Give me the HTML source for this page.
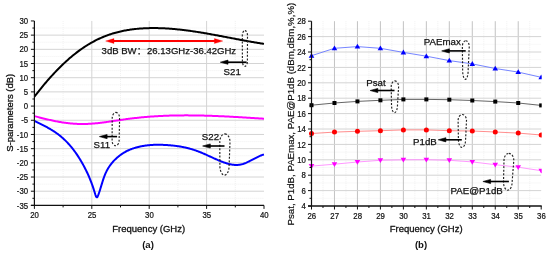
<!DOCTYPE html>
<html><head><meta charset="utf-8"><style>
html,body{margin:0;padding:0;background:#fff;width:550px;height:255px;overflow:hidden}
svg{display:block}
text{font-family:"Liberation Sans",Arial,sans-serif;fill:#111;stroke:#111;stroke-width:0.25px;stroke-linejoin:round}
.cj{font-family:"Noto Sans CJK SC",sans-serif}
.tl{font-size:7.8px;stroke-width:0.2px}
.an{font-size:9.7px}
.at{font-size:9.5px;stroke-width:0.3px}
.at2{font-size:9.7px;stroke-width:0.2px}
.pl{font-size:9.6px;font-weight:bold;stroke:none}
.gmin{stroke:#eeeeee;stroke-width:0.8;stroke-dasharray:1 1}
.gmaj{stroke:#d4d4d4;stroke-width:1}
.gmajv{stroke:#d4d4d4;stroke-width:1}
.rgv{stroke:#b4b4b4;stroke-width:0.8}
.ax{stroke:#111;stroke-width:1.2}
.axx{stroke:#111;stroke-width:1.3}
.tk{stroke:#111;stroke-width:1}
.c{fill:none;stroke-width:2;stroke-linejoin:round}
.el{fill:none;stroke:#222;stroke-width:1.15;stroke-dasharray:2 1.6}
</style></head><body>
<svg width="550" height="255" viewBox="0 0 550 255">
<defs><clipPath id="cl"><rect x="34.4" y="0" width="230.1" height="210"/></clipPath>
<clipPath id="cr"><rect x="305" y="0" width="236.7" height="210"/></clipPath></defs>
<g><line x1="63.1" y1="20.95" x2="63.1" y2="205.4" class="gmin"/>
<line x1="120.5" y1="20.95" x2="120.5" y2="205.4" class="gmin"/>
<line x1="177.9" y1="20.95" x2="177.9" y2="205.4" class="gmin"/>
<line x1="235.3" y1="20.95" x2="235.3" y2="205.4" class="gmin"/>
<line x1="34.4" y1="28.04" x2="264" y2="28.04" class="gmin"/>
<line x1="34.4" y1="42.23" x2="264" y2="42.23" class="gmin"/>
<line x1="34.4" y1="56.42" x2="264" y2="56.42" class="gmin"/>
<line x1="34.4" y1="70.61" x2="264" y2="70.61" class="gmin"/>
<line x1="34.4" y1="84.8" x2="264" y2="84.8" class="gmin"/>
<line x1="34.4" y1="98.99" x2="264" y2="98.99" class="gmin"/>
<line x1="34.4" y1="113.18" x2="264" y2="113.18" class="gmin"/>
<line x1="34.4" y1="127.36" x2="264" y2="127.36" class="gmin"/>
<line x1="34.4" y1="141.55" x2="264" y2="141.55" class="gmin"/>
<line x1="34.4" y1="155.74" x2="264" y2="155.74" class="gmin"/>
<line x1="34.4" y1="169.93" x2="264" y2="169.93" class="gmin"/>
<line x1="34.4" y1="184.12" x2="264" y2="184.12" class="gmin"/>
<line x1="34.4" y1="198.31" x2="264" y2="198.31" class="gmin"/>
<line x1="91.8" y1="20.95" x2="91.8" y2="205.4" class="gmajv"/>
<line x1="149.2" y1="20.95" x2="149.2" y2="205.4" class="gmajv"/>
<line x1="206.6" y1="20.95" x2="206.6" y2="205.4" class="gmajv"/>
<line x1="34.4" y1="35.14" x2="264" y2="35.14" class="gmaj"/>
<line x1="34.4" y1="49.33" x2="264" y2="49.33" class="gmaj"/>
<line x1="34.4" y1="63.52" x2="264" y2="63.52" class="gmaj"/>
<line x1="34.4" y1="77.7" x2="264" y2="77.7" class="gmaj"/>
<line x1="34.4" y1="91.89" x2="264" y2="91.89" class="gmaj"/>
<line x1="34.4" y1="106.08" x2="264" y2="106.08" class="gmaj"/>
<line x1="34.4" y1="120.27" x2="264" y2="120.27" class="gmaj"/>
<line x1="34.4" y1="134.46" x2="264" y2="134.46" class="gmaj"/>
<line x1="34.4" y1="148.65" x2="264" y2="148.65" class="gmaj"/>
<line x1="34.4" y1="162.83" x2="264" y2="162.83" class="gmaj"/>
<line x1="34.4" y1="177.02" x2="264" y2="177.02" class="gmaj"/>
<line x1="34.4" y1="191.21" x2="264" y2="191.21" class="gmaj"/>
<line x1="322.99" y1="21.2" x2="322.99" y2="206" class="gmin"/>
<line x1="345.95" y1="21.2" x2="345.95" y2="206" class="gmin"/>
<line x1="368.93" y1="21.2" x2="368.93" y2="206" class="gmin"/>
<line x1="391.89" y1="21.2" x2="391.89" y2="206" class="gmin"/>
<line x1="414.87" y1="21.2" x2="414.87" y2="206" class="gmin"/>
<line x1="437.84" y1="21.2" x2="437.84" y2="206" class="gmin"/>
<line x1="460.81" y1="21.2" x2="460.81" y2="206" class="gmin"/>
<line x1="483.78" y1="21.2" x2="483.78" y2="206" class="gmin"/>
<line x1="506.75" y1="21.2" x2="506.75" y2="206" class="gmin"/>
<line x1="529.72" y1="21.2" x2="529.72" y2="206" class="gmin"/>
<line x1="311.5" y1="28.9" x2="541.2" y2="28.9" class="gmin"/>
<line x1="311.5" y1="44.3" x2="541.2" y2="44.3" class="gmin"/>
<line x1="311.5" y1="59.7" x2="541.2" y2="59.7" class="gmin"/>
<line x1="311.5" y1="75.1" x2="541.2" y2="75.1" class="gmin"/>
<line x1="311.5" y1="90.5" x2="541.2" y2="90.5" class="gmin"/>
<line x1="311.5" y1="105.9" x2="541.2" y2="105.9" class="gmin"/>
<line x1="311.5" y1="121.3" x2="541.2" y2="121.3" class="gmin"/>
<line x1="311.5" y1="136.7" x2="541.2" y2="136.7" class="gmin"/>
<line x1="311.5" y1="152.1" x2="541.2" y2="152.1" class="gmin"/>
<line x1="311.5" y1="167.5" x2="541.2" y2="167.5" class="gmin"/>
<line x1="311.5" y1="182.9" x2="541.2" y2="182.9" class="gmin"/>
<line x1="311.5" y1="198.3" x2="541.2" y2="198.3" class="gmin"/>
<line x1="334.47" y1="21.2" x2="334.47" y2="206" class="rgv"/>
<line x1="357.44" y1="21.2" x2="357.44" y2="206" class="rgv"/>
<line x1="380.41" y1="21.2" x2="380.41" y2="206" class="rgv"/>
<line x1="403.38" y1="21.2" x2="403.38" y2="206" class="rgv"/>
<line x1="426.35" y1="21.2" x2="426.35" y2="206" class="rgv"/>
<line x1="449.32" y1="21.2" x2="449.32" y2="206" class="rgv"/>
<line x1="472.29" y1="21.2" x2="472.29" y2="206" class="rgv"/>
<line x1="495.26" y1="21.2" x2="495.26" y2="206" class="rgv"/>
<line x1="518.23" y1="21.2" x2="518.23" y2="206" class="rgv"/>
<line x1="311.5" y1="36.6" x2="541.2" y2="36.6" class="gmaj"/>
<line x1="311.5" y1="52" x2="541.2" y2="52" class="gmaj"/>
<line x1="311.5" y1="67.4" x2="541.2" y2="67.4" class="gmaj"/>
<line x1="311.5" y1="82.8" x2="541.2" y2="82.8" class="gmaj"/>
<line x1="311.5" y1="98.2" x2="541.2" y2="98.2" class="gmaj"/>
<line x1="311.5" y1="113.6" x2="541.2" y2="113.6" class="gmaj"/>
<line x1="311.5" y1="129" x2="541.2" y2="129" class="gmaj"/>
<line x1="311.5" y1="144.4" x2="541.2" y2="144.4" class="gmaj"/>
<line x1="311.5" y1="159.8" x2="541.2" y2="159.8" class="gmaj"/>
<line x1="311.5" y1="175.2" x2="541.2" y2="175.2" class="gmaj"/>
<line x1="311.5" y1="190.6" x2="541.2" y2="190.6" class="gmaj"/></g>
<g clip-path="url(#cl)"><path d="M34.4 96.7 L35.4 95.39 L36.41 94.1 L37.41 92.82 L38.41 91.56 L39.41 90.3 L40.42 89.05 L41.42 87.82 L42.42 86.6 L43.42 85.39 L44.43 84.19 L45.43 83.01 L46.43 81.84 L47.43 80.68 L48.44 79.53 L49.44 78.39 L50.44 77.27 L51.44 76.16 L52.45 75.06 L53.45 73.97 L54.45 72.9 L55.46 71.84 L56.46 70.79 L57.46 69.75 L58.46 68.73 L59.47 67.72 L60.47 66.73 L61.47 65.75 L62.47 64.78 L63.48 63.82 L64.48 62.88 L65.48 61.95 L66.48 61.04 L67.49 60.14 L68.49 59.25 L69.49 58.37 L70.49 57.51 L71.5 56.67 L72.5 55.83 L73.5 55.02 L74.5 54.21 L75.51 53.42 L76.51 52.64 L77.51 51.88 L78.52 51.13 L79.52 50.39 L80.52 49.67 L81.52 48.96 L82.53 48.26 L83.53 47.58 L84.53 46.91 L85.53 46.26 L86.54 45.62 L87.54 44.99 L88.54 44.38 L89.54 43.78 L90.55 43.19 L91.55 42.62 L92.55 42.06 L93.55 41.52 L94.56 40.99 L95.56 40.47 L96.56 39.96 L97.57 39.47 L98.57 38.99 L99.57 38.53 L100.57 38.08 L101.58 37.64 L102.58 37.21 L103.58 36.79 L104.58 36.39 L105.59 36 L106.59 35.62 L107.59 35.25 L108.59 34.89 L109.6 34.54 L110.6 34.21 L111.6 33.88 L112.6 33.57 L113.61 33.27 L114.61 32.98 L115.61 32.69 L116.61 32.42 L117.62 32.16 L118.62 31.91 L119.62 31.67 L120.63 31.43 L121.63 31.21 L122.63 31 L123.63 30.79 L124.64 30.59 L125.64 30.41 L126.64 30.23 L127.64 30.06 L128.65 29.89 L129.65 29.74 L130.65 29.59 L131.65 29.46 L132.66 29.32 L133.66 29.2 L134.66 29.08 L135.66 28.98 L136.67 28.87 L137.67 28.78 L138.67 28.69 L139.68 28.61 L140.68 28.53 L141.68 28.46 L142.68 28.4 L143.69 28.34 L144.69 28.29 L145.69 28.25 L146.69 28.2 L147.7 28.17 L148.7 28.14 L149.7 28.12 L150.7 28.1 L151.71 28.09 L152.71 28.08 L153.71 28.08 L154.71 28.08 L155.72 28.08 L156.72 28.1 L157.72 28.11 L158.72 28.14 L159.73 28.16 L160.73 28.19 L161.73 28.23 L162.74 28.27 L163.74 28.32 L164.74 28.37 L165.74 28.42 L166.75 28.48 L167.75 28.54 L168.75 28.61 L169.75 28.68 L170.76 28.75 L171.76 28.83 L172.76 28.91 L173.76 29 L174.77 29.09 L175.77 29.18 L176.77 29.28 L177.77 29.38 L178.78 29.48 L179.78 29.59 L180.78 29.7 L181.79 29.82 L182.79 29.94 L183.79 30.06 L184.79 30.18 L185.8 30.31 L186.8 30.44 L187.8 30.57 L188.8 30.7 L189.81 30.84 L190.81 30.98 L191.81 31.12 L192.81 31.27 L193.82 31.42 L194.82 31.57 L195.82 31.72 L196.82 31.88 L197.83 32.03 L198.83 32.19 L199.83 32.36 L200.83 32.52 L201.84 32.68 L202.84 32.85 L203.84 33.02 L204.85 33.19 L205.85 33.36 L206.85 33.54 L207.85 33.71 L208.86 33.89 L209.86 34.07 L210.86 34.25 L211.86 34.43 L212.87 34.61 L213.87 34.79 L214.87 34.98 L215.87 35.16 L216.88 35.35 L217.88 35.54 L218.88 35.72 L219.88 35.91 L220.89 36.1 L221.89 36.29 L222.89 36.48 L223.9 36.67 L224.9 36.86 L225.9 37.05 L226.9 37.25 L227.91 37.44 L228.91 37.63 L229.91 37.82 L230.91 38.01 L231.92 38.2 L232.92 38.39 L233.92 38.59 L234.92 38.78 L235.93 38.97 L236.93 39.16 L237.93 39.35 L238.93 39.54 L239.94 39.72 L240.94 39.91 L241.94 40.1 L242.94 40.28 L243.95 40.47 L244.95 40.65 L245.95 40.84 L246.96 41.02 L247.96 41.2 L248.96 41.38 L249.96 41.56 L250.97 41.73 L251.97 41.91 L252.97 42.08 L253.97 42.25 L254.98 42.42 L255.98 42.59 L256.98 42.76 L257.98 42.92 L258.99 43.09 L259.99 43.25 L260.99 43.41 L261.99 43.56 L263 43.72 L264 43.87" class="c" stroke="#000"/>
<path d="M34.4 116.1 L35.4 116.37 L36.41 116.63 L37.41 116.89 L38.41 117.15 L39.41 117.41 L40.42 117.67 L41.42 117.93 L42.42 118.18 L43.42 118.43 L44.43 118.68 L45.43 118.93 L46.43 119.17 L47.43 119.41 L48.44 119.64 L49.44 119.88 L50.44 120.1 L51.44 120.33 L52.45 120.55 L53.45 120.76 L54.45 120.97 L55.46 121.17 L56.46 121.37 L57.46 121.56 L58.46 121.75 L59.47 121.93 L60.47 122.1 L61.47 122.27 L62.47 122.43 L63.48 122.58 L64.48 122.73 L65.48 122.86 L66.48 122.99 L67.49 123.11 L68.49 123.23 L69.49 123.33 L70.49 123.43 L71.5 123.52 L72.5 123.6 L73.5 123.68 L74.5 123.75 L75.51 123.8 L76.51 123.85 L77.51 123.9 L78.52 123.93 L79.52 123.96 L80.52 123.98 L81.52 123.99 L82.53 124 L83.53 123.99 L84.53 123.98 L85.53 123.96 L86.54 123.93 L87.54 123.9 L88.54 123.86 L89.54 123.81 L90.55 123.75 L91.55 123.68 L92.55 123.61 L93.55 123.53 L94.56 123.45 L95.56 123.35 L96.56 123.26 L97.57 123.15 L98.57 123.04 L99.57 122.93 L100.57 122.81 L101.58 122.69 L102.58 122.56 L103.58 122.43 L104.58 122.3 L105.59 122.16 L106.59 122.02 L107.59 121.88 L108.59 121.73 L109.6 121.59 L110.6 121.44 L111.6 121.29 L112.6 121.14 L113.61 120.99 L114.61 120.84 L115.61 120.69 L116.61 120.54 L117.62 120.39 L118.62 120.24 L119.62 120.09 L120.63 119.94 L121.63 119.8 L122.63 119.65 L123.63 119.51 L124.64 119.37 L125.64 119.24 L126.64 119.1 L127.64 118.97 L128.65 118.84 L129.65 118.72 L130.65 118.59 L131.65 118.47 L132.66 118.35 L133.66 118.23 L134.66 118.11 L135.66 118 L136.67 117.89 L137.67 117.78 L138.67 117.68 L139.68 117.57 L140.68 117.47 L141.68 117.37 L142.68 117.28 L143.69 117.19 L144.69 117.09 L145.69 117.01 L146.69 116.92 L147.7 116.84 L148.7 116.76 L149.7 116.68 L150.7 116.6 L151.71 116.53 L152.71 116.46 L153.71 116.39 L154.71 116.33 L155.72 116.26 L156.72 116.2 L157.72 116.15 L158.72 116.09 L159.73 116.04 L160.73 115.98 L161.73 115.93 L162.74 115.89 L163.74 115.84 L164.74 115.8 L165.74 115.76 L166.75 115.72 L167.75 115.69 L168.75 115.65 L169.75 115.62 L170.76 115.59 L171.76 115.56 L172.76 115.53 L173.76 115.51 L174.77 115.49 L175.77 115.47 L176.77 115.45 L177.77 115.43 L178.78 115.42 L179.78 115.41 L180.78 115.4 L181.79 115.39 L182.79 115.38 L183.79 115.38 L184.79 115.37 L185.8 115.37 L186.8 115.37 L187.8 115.37 L188.8 115.38 L189.81 115.38 L190.81 115.39 L191.81 115.39 L192.81 115.4 L193.82 115.42 L194.82 115.43 L195.82 115.44 L196.82 115.46 L197.83 115.48 L198.83 115.49 L199.83 115.51 L200.83 115.54 L201.84 115.56 L202.84 115.58 L203.84 115.61 L204.85 115.63 L205.85 115.66 L206.85 115.69 L207.85 115.72 L208.86 115.75 L209.86 115.79 L210.86 115.82 L211.86 115.86 L212.87 115.89 L213.87 115.93 L214.87 115.97 L215.87 116.01 L216.88 116.05 L217.88 116.09 L218.88 116.13 L219.88 116.18 L220.89 116.22 L221.89 116.27 L222.89 116.31 L223.9 116.36 L224.9 116.41 L225.9 116.46 L226.9 116.51 L227.91 116.56 L228.91 116.61 L229.91 116.66 L230.91 116.71 L231.92 116.77 L232.92 116.82 L233.92 116.88 L234.92 116.93 L235.93 116.99 L236.93 117.05 L237.93 117.1 L238.93 117.16 L239.94 117.22 L240.94 117.28 L241.94 117.34 L242.94 117.4 L243.95 117.46 L244.95 117.52 L245.95 117.58 L246.96 117.64 L247.96 117.7 L248.96 117.76 L249.96 117.83 L250.97 117.89 L251.97 117.95 L252.97 118.02 L253.97 118.08 L254.98 118.14 L255.98 118.21 L256.98 118.27 L257.98 118.33 L258.99 118.4 L259.99 118.46 L260.99 118.53 L261.99 118.59 L263 118.66 L264 118.72" class="c" stroke="#ff00ff"/>
<path d="M34.4 120.97 L34.9 121.22 L35.4 121.46 L35.9 121.71 L36.4 121.95 L36.9 122.19 L37.4 122.43 L37.91 122.68 L38.41 122.92 L38.91 123.16 L39.41 123.4 L39.91 123.65 L40.41 123.89 L40.91 124.14 L41.41 124.38 L41.91 124.63 L42.41 124.88 L42.91 125.13 L43.41 125.38 L43.92 125.64 L44.42 125.89 L44.92 126.15 L45.42 126.41 L45.92 126.68 L46.42 126.94 L46.92 127.21 L47.42 127.48 L47.92 127.76 L48.42 128.04 L48.92 128.32 L49.42 128.6 L49.92 128.89 L50.43 129.19 L50.93 129.49 L51.43 129.79 L51.93 130.09 L52.43 130.4 L52.93 130.72 L53.43 131.04 L53.93 131.37 L54.43 131.7 L54.93 132.03 L55.43 132.38 L55.93 132.72 L56.44 133.08 L56.94 133.44 L57.44 133.8 L57.94 134.17 L58.44 134.55 L58.94 134.94 L59.44 135.33 L59.94 135.73 L60.44 136.14 L60.94 136.55 L61.44 136.97 L61.94 137.4 L62.45 137.84 L62.95 138.28 L63.45 138.74 L63.95 139.2 L64.45 139.67 L64.95 140.15 L65.45 140.63 L65.95 141.13 L66.45 141.64 L66.95 142.15 L67.45 142.67 L67.95 143.21 L68.45 143.75 L68.96 144.3 L69.46 144.87 L69.96 145.44 L70.46 146.03 L70.96 146.62 L71.46 147.22 L71.96 147.84 L72.46 148.47 L72.96 149.11 L73.46 149.76 L73.96 150.42 L74.46 151.09 L74.97 151.78 L75.47 152.47 L75.97 153.18 L76.47 153.9 L76.97 154.64 L77.47 155.38 L77.97 156.14 L78.47 156.91 L78.97 157.7 L79.47 158.5 L79.97 159.31 L80.47 160.14 L80.97 160.98 L81.48 161.83 L81.98 162.7 L82.48 163.58 L82.98 164.48 L83.48 165.39 L83.98 166.31 L84.48 167.25 L84.98 168.21 L85.48 169.18 L85.98 170.17 L86.48 171.19 L86.98 172.22 L87.49 173.28 L87.99 174.37 L88.49 175.48 L88.99 176.62 L89.49 177.8 L89.99 179.01 L90.49 180.26 L90.99 181.54 L91.49 182.87 L91.99 184.24 L92.49 185.65 L92.99 187.1 L93.5 188.61 L94 190.18 L94.5 191.8 L95 193.45 L95.5 195.08 L96 196.45 L96.5 197.13 L97 197.34 L97.5 196.74 L98 195.69 L98.5 194.41 L99 193 L99.5 191.51 L100 189.93 L100.5 188.3 L101 186.65 L101.5 184.99 L102 183.34 L102.5 181.72 L103 180.15 L103.5 178.64 L104 177.21 L104.5 175.87 L105 174.62 L105.5 173.45 L106 172.35 L106.5 171.32 L107 170.35 L107.5 169.44 L108 168.58 L108.5 167.76 L109 166.97 L109.5 166.22 L110 165.5 L110.5 164.81 L111 164.15 L111.5 163.51 L112 162.9 L112.5 162.31 L113 161.74 L113.5 161.19 L114 160.66 L114.5 160.14 L115 159.64 L115.5 159.16 L116 158.69 L116.5 158.22 L117 157.78 L117.5 157.34 L118 156.91 L118.5 156.5 L119 156.09 L119.5 155.7 L120 155.32 L120.5 154.95 L121 154.59 L121.5 154.23 L122 153.89 L122.5 153.56 L123 153.24 L123.5 152.93 L124 152.62 L124.5 152.33 L125 152.04 L125.5 151.76 L126 151.5 L126.5 151.23 L127 150.98 L127.5 150.74 L128 150.5 L128.5 150.27 L129 150.04 L129.5 149.83 L130 149.62 L130.5 149.42 L131 149.22 L131.5 149.03 L132 148.84 L132.5 148.67 L133 148.49 L133.5 148.33 L134 148.16 L134.5 148.01 L135 147.85 L135.5 147.7 L136 147.56 L136.5 147.42 L137 147.29 L137.5 147.16 L138 147.03 L138.5 146.91 L139 146.79 L139.5 146.67 L140 146.56 L140.5 146.45 L141 146.35 L141.5 146.25 L142 146.15 L142.5 146.06 L143 145.97 L143.5 145.89 L144 145.81 L144.5 145.73 L145 145.65 L145.5 145.58 L146 145.51 L146.5 145.45 L147 145.39 L147.5 145.33 L148 145.28 L148.5 145.22 L149 145.17 L149.5 145.13 L150 145.09 L150.5 145.05 L151 145.01 L151.5 144.97 L152 144.94 L152.5 144.91 L153 144.89 L153.5 144.87 L154 144.84 L154.5 144.83 L155 144.81 L155.5 144.8 L156 144.79 L156.5 144.78 L157 144.77 L157.5 144.77 L158 144.77 L158.5 144.77 L159 144.77 L159.5 144.77 L160 144.78 L160.5 144.79 L161 144.8 L161.5 144.81 L162 144.83 L162.5 144.85 L163 144.86 L163.5 144.88 L164 144.91 L164.5 144.93 L165 144.95 L165.5 144.98 L166 145.01 L166.5 145.04 L167 145.07 L167.5 145.1 L168 145.14 L168.5 145.17 L169 145.21 L169.5 145.25 L170 145.29 L170.5 145.33 L171 145.38 L171.5 145.42 L172 145.47 L172.5 145.52 L173 145.57 L173.5 145.63 L174 145.68 L174.5 145.74 L175 145.8 L175.5 145.87 L176 145.93 L176.5 146 L177 146.07 L177.5 146.14 L178 146.21 L178.5 146.28 L179 146.36 L179.5 146.44 L180 146.53 L180.5 146.61 L181 146.7 L181.5 146.79 L182 146.88 L182.5 146.97 L183 147.07 L183.5 147.17 L184 147.27 L184.5 147.38 L185 147.49 L185.5 147.6 L186 147.71 L186.5 147.83 L187 147.94 L187.5 148.07 L188 148.19 L188.5 148.32 L189 148.45 L189.5 148.58 L190 148.72 L190.5 148.85 L191 149 L191.5 149.14 L192 149.29 L192.5 149.44 L193 149.6 L193.5 149.75 L194 149.91 L194.5 150.08 L195 150.24 L195.5 150.42 L196 150.59 L196.5 150.77 L197 150.95 L197.5 151.13 L198 151.32 L198.5 151.51 L199 151.7 L199.5 151.9 L200 152.1 L200.5 152.3 L201 152.51 L201.5 152.71 L202 152.92 L202.5 153.14 L203 153.35 L203.5 153.57 L204 153.79 L204.5 154.01 L205 154.23 L205.5 154.45 L206 154.67 L206.5 154.9 L207 155.13 L207.5 155.35 L208 155.58 L208.5 155.81 L209 156.04 L209.5 156.27 L210 156.5 L210.5 156.73 L211 156.96 L211.5 157.18 L212 157.41 L212.5 157.64 L213 157.87 L213.5 158.1 L214 158.32 L214.5 158.55 L215 158.77 L215.5 159 L216 159.22 L216.5 159.44 L217 159.66 L217.5 159.87 L218 160.09 L218.5 160.3 L219 160.51 L219.5 160.72 L220 160.92 L220.5 161.12 L221 161.32 L221.5 161.52 L222 161.72 L222.5 161.91 L223 162.09 L223.5 162.28 L224 162.46 L224.5 162.63 L225 162.8 L225.5 162.97 L226 163.13 L226.5 163.29 L227 163.44 L227.5 163.58 L228 163.72 L228.5 163.86 L229 163.98 L229.5 164.1 L230 164.22 L230.5 164.32 L231 164.42 L231.5 164.51 L232 164.6 L232.5 164.67 L233 164.74 L233.5 164.8 L234 164.85 L234.5 164.89 L235 164.92 L235.5 164.94 L236 164.95 L236.5 164.95 L237 164.94 L237.5 164.93 L238 164.9 L238.5 164.86 L239 164.8 L239.5 164.74 L240 164.66 L240.5 164.58 L241 164.48 L241.5 164.37 L242 164.24 L242.5 164.1 L243 163.96 L243.5 163.8 L244 163.63 L244.5 163.45 L245 163.26 L245.5 163.06 L246 162.86 L246.5 162.64 L247 162.42 L247.5 162.19 L248 161.96 L248.5 161.72 L249 161.48 L249.5 161.23 L250 160.98 L250.5 160.72 L251 160.46 L251.5 160.2 L252 159.94 L252.5 159.67 L253 159.4 L253.5 159.14 L254 158.87 L254.5 158.61 L255 158.35 L255.5 158.08 L256 157.83 L256.5 157.57 L257 157.32 L257.5 157.07 L258 156.82 L258.5 156.59 L259 156.35 L259.5 156.13 L260 155.91 L260.5 155.69 L261 155.49 L261.5 155.29 L262 155.1 L262.5 154.92 L263 154.76 L263.5 154.6 L264 154.45" class="c" stroke="#0000ff"/></g>
<g clip-path="url(#cr)"><polyline points="311.5,55.7 334.47,48.3 357.44,46.6 380.41,48.3 403.38,52.4 426.35,56.2 449.32,60.6 472.29,63.9 495.26,68.5 518.23,72.1 541.2,77.3" fill="none" stroke="#6677ff" stroke-width="0.9"/>
<path d="M311.5 52.9 L314.3 57.7 L308.7 57.7 Z" fill="#0000ff"/>
<path d="M334.47 45.5 L337.27 50.3 L331.67 50.3 Z" fill="#0000ff"/>
<path d="M357.44 43.8 L360.24 48.6 L354.64 48.6 Z" fill="#0000ff"/>
<path d="M380.41 45.5 L383.21 50.3 L377.61 50.3 Z" fill="#0000ff"/>
<path d="M403.38 49.6 L406.18 54.4 L400.58 54.4 Z" fill="#0000ff"/>
<path d="M426.35 53.4 L429.15 58.2 L423.55 58.2 Z" fill="#0000ff"/>
<path d="M449.32 57.8 L452.12 62.6 L446.52 62.6 Z" fill="#0000ff"/>
<path d="M472.29 61.1 L475.09 65.9 L469.49 65.9 Z" fill="#0000ff"/>
<path d="M495.26 65.7 L498.06 70.5 L492.46 70.5 Z" fill="#0000ff"/>
<path d="M518.23 69.3 L521.03 74.1 L515.43 74.1 Z" fill="#0000ff"/>
<path d="M541.2 74.5 L544 79.3 L538.4 79.3 Z" fill="#0000ff"/>
<polyline points="311.5,105.2 334.47,103 357.44,101.4 380.41,100.3 403.38,99.4 426.35,99.4 449.32,99.7 472.29,100.5 495.26,101.6 518.23,103 541.2,105.4" fill="none" stroke="#555" stroke-width="0.9"/>
<rect x="309.5" y="103.2" width="4" height="4" fill="#000"/>
<rect x="332.47" y="101" width="4" height="4" fill="#000"/>
<rect x="355.44" y="99.4" width="4" height="4" fill="#000"/>
<rect x="378.41" y="98.3" width="4" height="4" fill="#000"/>
<rect x="401.38" y="97.4" width="4" height="4" fill="#000"/>
<rect x="424.35" y="97.4" width="4" height="4" fill="#000"/>
<rect x="447.32" y="97.7" width="4" height="4" fill="#000"/>
<rect x="470.29" y="98.5" width="4" height="4" fill="#000"/>
<rect x="493.26" y="99.6" width="4" height="4" fill="#000"/>
<rect x="516.23" y="101" width="4" height="4" fill="#000"/>
<rect x="539.2" y="103.4" width="4" height="4" fill="#000"/>
<polyline points="311.5,133.5 334.47,132.1 357.44,131.3 380.41,130.7 403.38,129.9 426.35,129.9 449.32,130.7 472.29,131 495.26,132 518.23,133.1 541.2,135" fill="none" stroke="#ff8080" stroke-width="0.9"/>
<circle cx="311.5" cy="133.5" r="2.5" fill="#ff0000"/>
<circle cx="334.47" cy="132.1" r="2.5" fill="#ff0000"/>
<circle cx="357.44" cy="131.3" r="2.5" fill="#ff0000"/>
<circle cx="380.41" cy="130.7" r="2.5" fill="#ff0000"/>
<circle cx="403.38" cy="129.9" r="2.5" fill="#ff0000"/>
<circle cx="426.35" cy="129.9" r="2.5" fill="#ff0000"/>
<circle cx="449.32" cy="130.7" r="2.5" fill="#ff0000"/>
<circle cx="472.29" cy="131" r="2.5" fill="#ff0000"/>
<circle cx="495.26" cy="132" r="2.5" fill="#ff0000"/>
<circle cx="518.23" cy="133.1" r="2.5" fill="#ff0000"/>
<circle cx="541.2" cy="135" r="2.5" fill="#ff0000"/>
<polyline points="311.5,166.1 334.47,164.2 357.44,162 380.41,160.3 403.38,159.8 426.35,159.7 449.32,160.3 472.29,161.9 495.26,164.7 518.23,167.2 541.2,170.7" fill="none" stroke="#ff8cff" stroke-width="0.9"/>
<path d="M311.5 168.9 L314.3 164.1 L308.7 164.1 Z" fill="#ff00ff"/>
<path d="M334.47 167 L337.27 162.2 L331.67 162.2 Z" fill="#ff00ff"/>
<path d="M357.44 164.8 L360.24 160 L354.64 160 Z" fill="#ff00ff"/>
<path d="M380.41 163.1 L383.21 158.3 L377.61 158.3 Z" fill="#ff00ff"/>
<path d="M403.38 162.6 L406.18 157.8 L400.58 157.8 Z" fill="#ff00ff"/>
<path d="M426.35 162.5 L429.15 157.7 L423.55 157.7 Z" fill="#ff00ff"/>
<path d="M449.32 163.1 L452.12 158.3 L446.52 158.3 Z" fill="#ff00ff"/>
<path d="M472.29 164.7 L475.09 159.9 L469.49 159.9 Z" fill="#ff00ff"/>
<path d="M495.26 167.5 L498.06 162.7 L492.46 162.7 Z" fill="#ff00ff"/>
<path d="M518.23 170 L521.03 165.2 L515.43 165.2 Z" fill="#ff00ff"/>
<path d="M541.2 173.5 L544 168.7 L538.4 168.7 Z" fill="#ff00ff"/></g>
<g><line x1="34.4" y1="20.95" x2="34.4" y2="206" class="ax"/>
<line x1="30.9" y1="205.4" x2="264" y2="205.4" class="axx"/>
<line x1="30.9" y1="20.95" x2="34.4" y2="20.95" class="tk"/>
<text transform="matrix(1 0 0 1.17 28.1 24.05)" class="tl" text-anchor="end">30</text>
<line x1="32.4" y1="28.04" x2="34.4" y2="28.04" class="tk"/>
<line x1="30.9" y1="35.14" x2="34.4" y2="35.14" class="tk"/>
<text transform="matrix(1 0 0 1.17 28.1 38.24)" class="tl" text-anchor="end">25</text>
<line x1="32.4" y1="42.23" x2="34.4" y2="42.23" class="tk"/>
<line x1="30.9" y1="49.33" x2="34.4" y2="49.33" class="tk"/>
<text transform="matrix(1 0 0 1.17 28.1 52.43)" class="tl" text-anchor="end">20</text>
<line x1="32.4" y1="56.42" x2="34.4" y2="56.42" class="tk"/>
<line x1="30.9" y1="63.52" x2="34.4" y2="63.52" class="tk"/>
<text transform="matrix(1 0 0 1.17 28.1 66.62)" class="tl" text-anchor="end">15</text>
<line x1="32.4" y1="70.61" x2="34.4" y2="70.61" class="tk"/>
<line x1="30.9" y1="77.7" x2="34.4" y2="77.7" class="tk"/>
<text transform="matrix(1 0 0 1.17 28.1 80.8)" class="tl" text-anchor="end">10</text>
<line x1="32.4" y1="84.8" x2="34.4" y2="84.8" class="tk"/>
<line x1="30.9" y1="91.89" x2="34.4" y2="91.89" class="tk"/>
<text transform="matrix(1 0 0 1.17 28.1 94.99)" class="tl" text-anchor="end">5</text>
<line x1="32.4" y1="98.99" x2="34.4" y2="98.99" class="tk"/>
<line x1="30.9" y1="106.08" x2="34.4" y2="106.08" class="tk"/>
<text transform="matrix(1 0 0 1.17 28.1 109.18)" class="tl" text-anchor="end">0</text>
<line x1="32.4" y1="113.18" x2="34.4" y2="113.18" class="tk"/>
<line x1="30.9" y1="120.27" x2="34.4" y2="120.27" class="tk"/>
<text transform="matrix(1 0 0 1.17 28.1 123.37)" class="tl" text-anchor="end">-5</text>
<line x1="32.4" y1="127.36" x2="34.4" y2="127.36" class="tk"/>
<line x1="30.9" y1="134.46" x2="34.4" y2="134.46" class="tk"/>
<text transform="matrix(1 0 0 1.17 28.1 137.56)" class="tl" text-anchor="end">-10</text>
<line x1="32.4" y1="141.55" x2="34.4" y2="141.55" class="tk"/>
<line x1="30.9" y1="148.65" x2="34.4" y2="148.65" class="tk"/>
<text transform="matrix(1 0 0 1.17 28.1 151.75)" class="tl" text-anchor="end">-15</text>
<line x1="32.4" y1="155.74" x2="34.4" y2="155.74" class="tk"/>
<line x1="30.9" y1="162.83" x2="34.4" y2="162.83" class="tk"/>
<text transform="matrix(1 0 0 1.17 28.1 165.93)" class="tl" text-anchor="end">-20</text>
<line x1="32.4" y1="169.93" x2="34.4" y2="169.93" class="tk"/>
<line x1="30.9" y1="177.02" x2="34.4" y2="177.02" class="tk"/>
<text transform="matrix(1 0 0 1.17 28.1 180.12)" class="tl" text-anchor="end">-25</text>
<line x1="32.4" y1="184.12" x2="34.4" y2="184.12" class="tk"/>
<line x1="30.9" y1="191.21" x2="34.4" y2="191.21" class="tk"/>
<text transform="matrix(1 0 0 1.17 28.1 194.31)" class="tl" text-anchor="end">-30</text>
<line x1="32.4" y1="198.31" x2="34.4" y2="198.31" class="tk"/>
<line x1="30.9" y1="205.4" x2="34.4" y2="205.4" class="tk"/>
<text transform="matrix(1 0 0 1.17 28.1 208.5)" class="tl" text-anchor="end">-35</text>
<line x1="34.4" y1="205.4" x2="34.4" y2="208.9" class="tk"/>
<text transform="matrix(1 0 0 1.17 34.6 218)" class="tl" text-anchor="middle">20</text>
<line x1="63.1" y1="205.4" x2="63.1" y2="207.4" class="tk"/>
<line x1="91.8" y1="205.4" x2="91.8" y2="208.9" class="tk"/>
<text transform="matrix(1 0 0 1.17 92 218)" class="tl" text-anchor="middle">25</text>
<line x1="120.5" y1="205.4" x2="120.5" y2="207.4" class="tk"/>
<line x1="149.2" y1="205.4" x2="149.2" y2="208.9" class="tk"/>
<text transform="matrix(1 0 0 1.17 149.4 218)" class="tl" text-anchor="middle">30</text>
<line x1="177.9" y1="205.4" x2="177.9" y2="207.4" class="tk"/>
<line x1="206.6" y1="205.4" x2="206.6" y2="208.9" class="tk"/>
<text transform="matrix(1 0 0 1.17 206.8 218)" class="tl" text-anchor="middle">35</text>
<line x1="235.3" y1="205.4" x2="235.3" y2="207.4" class="tk"/>
<line x1="264" y1="205.4" x2="264" y2="208.9" class="tk"/>
<text transform="matrix(1 0 0 1.17 264.2 218)" class="tl" text-anchor="middle">40</text>
<line x1="311.5" y1="21.2" x2="311.5" y2="206.6" class="ax"/>
<line x1="308" y1="206" x2="541.7" y2="206" class="axx"/>
<line x1="308" y1="21.2" x2="311.5" y2="21.2" class="tk"/>
<text transform="matrix(1 0 0 1.17 305.9 24.3)" class="tl" text-anchor="end">28</text>
<line x1="309.5" y1="28.9" x2="311.5" y2="28.9" class="tk"/>
<line x1="308" y1="36.6" x2="311.5" y2="36.6" class="tk"/>
<text transform="matrix(1 0 0 1.17 305.9 39.7)" class="tl" text-anchor="end">26</text>
<line x1="309.5" y1="44.3" x2="311.5" y2="44.3" class="tk"/>
<line x1="308" y1="52" x2="311.5" y2="52" class="tk"/>
<text transform="matrix(1 0 0 1.17 305.9 55.1)" class="tl" text-anchor="end">24</text>
<line x1="309.5" y1="59.7" x2="311.5" y2="59.7" class="tk"/>
<line x1="308" y1="67.4" x2="311.5" y2="67.4" class="tk"/>
<text transform="matrix(1 0 0 1.17 305.9 70.5)" class="tl" text-anchor="end">22</text>
<line x1="309.5" y1="75.1" x2="311.5" y2="75.1" class="tk"/>
<line x1="308" y1="82.8" x2="311.5" y2="82.8" class="tk"/>
<text transform="matrix(1 0 0 1.17 305.9 85.9)" class="tl" text-anchor="end">20</text>
<line x1="309.5" y1="90.5" x2="311.5" y2="90.5" class="tk"/>
<line x1="308" y1="98.2" x2="311.5" y2="98.2" class="tk"/>
<text transform="matrix(1 0 0 1.17 305.9 101.3)" class="tl" text-anchor="end">18</text>
<line x1="309.5" y1="105.9" x2="311.5" y2="105.9" class="tk"/>
<line x1="308" y1="113.6" x2="311.5" y2="113.6" class="tk"/>
<text transform="matrix(1 0 0 1.17 305.9 116.7)" class="tl" text-anchor="end">16</text>
<line x1="309.5" y1="121.3" x2="311.5" y2="121.3" class="tk"/>
<line x1="308" y1="129" x2="311.5" y2="129" class="tk"/>
<text transform="matrix(1 0 0 1.17 305.9 132.1)" class="tl" text-anchor="end">14</text>
<line x1="309.5" y1="136.7" x2="311.5" y2="136.7" class="tk"/>
<line x1="308" y1="144.4" x2="311.5" y2="144.4" class="tk"/>
<text transform="matrix(1 0 0 1.17 305.9 147.5)" class="tl" text-anchor="end">12</text>
<line x1="309.5" y1="152.1" x2="311.5" y2="152.1" class="tk"/>
<line x1="308" y1="159.8" x2="311.5" y2="159.8" class="tk"/>
<text transform="matrix(1 0 0 1.17 305.9 162.9)" class="tl" text-anchor="end">10</text>
<line x1="309.5" y1="167.5" x2="311.5" y2="167.5" class="tk"/>
<line x1="308" y1="175.2" x2="311.5" y2="175.2" class="tk"/>
<text transform="matrix(1 0 0 1.17 305.9 178.3)" class="tl" text-anchor="end">8</text>
<line x1="309.5" y1="182.9" x2="311.5" y2="182.9" class="tk"/>
<line x1="308" y1="190.6" x2="311.5" y2="190.6" class="tk"/>
<text transform="matrix(1 0 0 1.17 305.9 193.7)" class="tl" text-anchor="end">6</text>
<line x1="309.5" y1="198.3" x2="311.5" y2="198.3" class="tk"/>
<line x1="308" y1="206" x2="311.5" y2="206" class="tk"/>
<text transform="matrix(1 0 0 1.17 305.9 209.1)" class="tl" text-anchor="end">4</text>
<line x1="311.5" y1="206" x2="311.5" y2="209.5" class="tk"/>
<text transform="matrix(1 0 0 1.17 311.7 218.7)" class="tl" text-anchor="middle">26</text>
<line x1="322.99" y1="206" x2="322.99" y2="208" class="tk"/>
<line x1="334.47" y1="206" x2="334.47" y2="209.5" class="tk"/>
<text transform="matrix(1 0 0 1.17 334.67 218.7)" class="tl" text-anchor="middle">27</text>
<line x1="345.95" y1="206" x2="345.95" y2="208" class="tk"/>
<line x1="357.44" y1="206" x2="357.44" y2="209.5" class="tk"/>
<text transform="matrix(1 0 0 1.17 357.64 218.7)" class="tl" text-anchor="middle">28</text>
<line x1="368.93" y1="206" x2="368.93" y2="208" class="tk"/>
<line x1="380.41" y1="206" x2="380.41" y2="209.5" class="tk"/>
<text transform="matrix(1 0 0 1.17 380.61 218.7)" class="tl" text-anchor="middle">29</text>
<line x1="391.89" y1="206" x2="391.89" y2="208" class="tk"/>
<line x1="403.38" y1="206" x2="403.38" y2="209.5" class="tk"/>
<text transform="matrix(1 0 0 1.17 403.58 218.7)" class="tl" text-anchor="middle">30</text>
<line x1="414.87" y1="206" x2="414.87" y2="208" class="tk"/>
<line x1="426.35" y1="206" x2="426.35" y2="209.5" class="tk"/>
<text transform="matrix(1 0 0 1.17 426.55 218.7)" class="tl" text-anchor="middle">31</text>
<line x1="437.84" y1="206" x2="437.84" y2="208" class="tk"/>
<line x1="449.32" y1="206" x2="449.32" y2="209.5" class="tk"/>
<text transform="matrix(1 0 0 1.17 449.52 218.7)" class="tl" text-anchor="middle">32</text>
<line x1="460.81" y1="206" x2="460.81" y2="208" class="tk"/>
<line x1="472.29" y1="206" x2="472.29" y2="209.5" class="tk"/>
<text transform="matrix(1 0 0 1.17 472.49 218.7)" class="tl" text-anchor="middle">33</text>
<line x1="483.78" y1="206" x2="483.78" y2="208" class="tk"/>
<line x1="495.26" y1="206" x2="495.26" y2="209.5" class="tk"/>
<text transform="matrix(1 0 0 1.17 495.46 218.7)" class="tl" text-anchor="middle">34</text>
<line x1="506.75" y1="206" x2="506.75" y2="208" class="tk"/>
<line x1="518.23" y1="206" x2="518.23" y2="209.5" class="tk"/>
<text transform="matrix(1 0 0 1.17 518.43 218.7)" class="tl" text-anchor="middle">35</text>
<line x1="529.72" y1="206" x2="529.72" y2="208" class="tk"/>
<line x1="541.2" y1="206" x2="541.2" y2="209.5" class="tk"/>
<text transform="matrix(1 0 0 1.17 541.4 218.7)" class="tl" text-anchor="middle">36</text></g>
<g><line x1="113" y1="41.05" x2="215.2" y2="41.05" stroke="#ff0000" stroke-width="2.1"/>
<path d="M105.6 41.05 L114 38.55 L114 43.55 Z" fill="#ff0000" stroke="#ff0000" stroke-width="0.3" stroke-linejoin="round"/>
<path d="M222.8 41.05 L214.4 38.55 L214.4 43.55 Z" fill="#ff0000" stroke="#ff0000" stroke-width="0.3" stroke-linejoin="round"/>
<text x="101.6" y="54" class="an" style="font-size:9.55px">3dB BW<tspan class="cj">：</tspan><tspan x="147">26.13GHz-36.42GHz</tspan></text>
<path d="M244.9 30.6 A2.6 5 0 0 1 247.5 35.6 L247.4 61.3 A2.5 5 0 0 1 244.9 66.3 A2.5 5 0 0 1 242.4 61.3 L242.3 35.6 A2.6 5 0 0 1 244.9 30.6 Z" class="el"/>
<line x1="227" y1="62.2" x2="246.6" y2="62.2" stroke="#000" stroke-width="1.6"/>
<path d="M220.3 62.2 L228 60.1 L228 64.3 Z" fill="#000" stroke="#000" stroke-width="0.6" stroke-linejoin="round"/>
<text x="223.6" y="74.8" class="an">S21</text>
<path d="M115.9 112.4 A3.7 6 0 0 1 119.6 118.4 L119.1 140.7 A3.5 5 0 0 1 115.6 145.7 A3.5 5 0 0 1 112.1 140.7 L112.2 118.4 A3.7 6 0 0 1 115.9 112.4 Z" class="el"/>
<line x1="106.1" y1="136.6" x2="117.1" y2="136.6" stroke="#000" stroke-width="1.6"/>
<path d="M99.4 136.6 L107.1 134.5 L107.1 138.7 Z" fill="#000" stroke="#000" stroke-width="0.6" stroke-linejoin="round"/>
<text x="93.6" y="147.9" class="an">S11</text>
<path d="M224.9 133.9 A5.1 8 0 0 1 230 141.9 L229.1 166.1 A4.6 9 0 0 1 224.5 175.1 A4.6 9 0 0 1 219.9 166.1 L219.8 141.9 A5.1 8 0 0 1 224.9 133.9 Z" class="el"/>
<line x1="209.3" y1="146" x2="224.5" y2="146" stroke="#000" stroke-width="1.6"/>
<path d="M202.6 146 L210.3 143.9 L210.3 148.1 Z" fill="#000" stroke="#000" stroke-width="0.6" stroke-linejoin="round"/>
<text x="201.8" y="140.3" class="an">S22</text>
<path d="M465.8 40.7 A3.45 6 0 0 1 469.25 46.7 L468.15 70.3 A2.75 9 0 0 1 465.4 79.3 A2.75 9 0 0 1 462.65 70.3 L462.35 46.7 A3.45 6 0 0 1 465.8 40.7 Z" class="el"/>
<line x1="448.4" y1="50.9" x2="465.7" y2="50.9" stroke="#000" stroke-width="1.6"/>
<path d="M441.7 50.9 L449.4 48.8 L449.4 53 Z" fill="#000" stroke="#000" stroke-width="0.6" stroke-linejoin="round"/>
<text x="423.8" y="45.1" class="an">PAEmax</text>
<path d="M394.9 80.8 A3.7 6 0 0 1 398.6 86.8 L397.5 104.7 A3 8 0 0 1 394.5 112.7 A3 8 0 0 1 391.5 104.7 L391.2 86.8 A3.7 6 0 0 1 394.9 80.8 Z" class="el"/>
<line x1="376.8" y1="90.5" x2="394.5" y2="90.5" stroke="#000" stroke-width="1.6"/>
<path d="M370.1 90.5 L377.8 88.4 L377.8 92.6 Z" fill="#000" stroke="#000" stroke-width="0.6" stroke-linejoin="round"/>
<text x="366.3" y="85.8" class="an">Psat</text>
<path d="M462.3 114.5 A4.2 6 0 0 1 466.5 120.5 L465.6 139.4 A3.6 8 0 0 1 462 147.4 A3.6 8 0 0 1 458.4 139.4 L458.1 120.5 A4.2 6 0 0 1 462.3 114.5 Z" class="el"/>
<line x1="444.9" y1="139.8" x2="461.8" y2="139.8" stroke="#000" stroke-width="1.6"/>
<path d="M438.2 139.8 L445.9 137.7 L445.9 141.9 Z" fill="#000" stroke="#000" stroke-width="0.6" stroke-linejoin="round"/>
<text x="413.1" y="144.8" class="an">P1dB</text>
<path d="M508.9 153.4 A4.9 7 0 0 1 513.8 160.4 L512.1 182.2 A4.3 8 0 0 1 507.8 190.2 A4.3 8 0 0 1 503.5 182.2 L504 160.4 A4.9 7 0 0 1 508.9 153.4 Z" class="el"/>
<line x1="489.6" y1="181.5" x2="508.9" y2="181.5" stroke="#000" stroke-width="1.6"/>
<path d="M482.9 181.5 L490.6 179.4 L490.6 183.6 Z" fill="#000" stroke="#000" stroke-width="0.6" stroke-linejoin="round"/>
<text x="450.6" y="193.6" class="an">PAE@P1dB</text>
<text x="148.7" y="232.3" class="at" text-anchor="middle">Frequency (GHz)</text>
<text x="426.2" y="232.3" class="at" text-anchor="middle">Frequency (GHz)</text>
<text transform="matrix(1 0 0 0.88 148 247.7)" class="pl" text-anchor="middle">(a)</text>
<text transform="matrix(1 0 0 0.88 421 247.7)" class="pl" text-anchor="middle">(b)</text>
<text transform="translate(12.6 112.8) rotate(-90)" class="at" text-anchor="middle">S-parameters (dB)</text>
<text transform="translate(293.6 114.1) rotate(-90)" class="at2" text-anchor="middle">Psat, P1dB, PAEmax, PAE@P1dB (dBm,dBm,%,%)</text></g>
</svg>
</body></html>
